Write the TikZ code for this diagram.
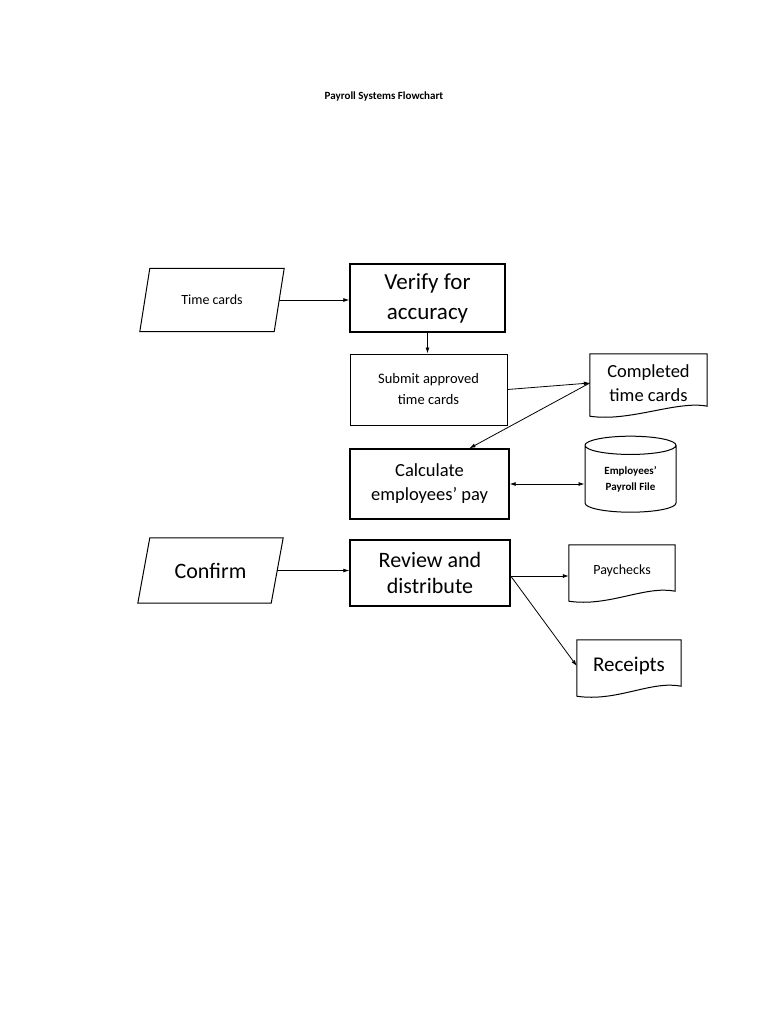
\documentclass[tikz,border=0pt]{standalone}
\usepackage{fontspec}
\setmainfont{Carlito}
\usetikzlibrary{shapes.geometric,arrows.meta}
\begin{document}
\begin{tikzpicture}[x=1pt,y=-1pt,
  line/.style={draw=black,line width=1pt},
  box/.style={line,line width=1.4pt,rectangle,inner sep=0pt,align=center},
  para/.style={rectangle,inner sep=0pt,align=center},
  doc/.style={rectangle,inner sep=0pt,align=center},
  arr/.style={line width=0.8pt,-{Latex[length=6pt,width=4pt]}},
  darr/.style={line width=0.8pt,{Latex[length=6pt,width=4pt]}-{Latex[length=6pt,width=4pt]}}]
\useasboundingbox (0,0) rectangle (768,1024);
\node[font=\fontsize{11}{13}\selectfont\bfseries] (title) at (384,97) {Payroll Systems Flowchart};

\node[para,minimum width=134pt,minimum height=63pt,font=\fontsize{14}{16}\selectfont] (tc) at (212,300) {Time cards};
\node[box,minimum width=155pt,minimum height=68pt,font=\fontsize{23}{30}\selectfont] (ver) at (427.5,298) {Verify for\\accuracy};
\node[box,line width=1pt,minimum width=157pt,minimum height=71pt,font=\fontsize{14.5}{21}\selectfont] (sub) at (428.5,389.5) {Submit approved\\time cards};
\node[doc,minimum width=117pt,minimum height=58pt,font=\fontsize{18.5}{24}\selectfont] (comp) at (648.5,383) {Completed\\time cards};
\node[box,minimum width=159pt,minimum height=70pt,font=\fontsize{18.5}{24}\selectfont] (calc) at (429.5,484) {Calculate\\employees’ pay};
\node[line,cylinder,shape border rotate=90,aspect=0.35,minimum width=91pt,minimum height=76pt,inner sep=0pt,align=center,font=\fontsize{11}{16}\selectfont\bfseries] (file) at (630.5,479) {Employees’\\Payroll File};
\node[para,minimum width=133pt,minimum height=65pt,font=\fontsize{22}{26}\selectfont] (conf) at (210.5,570.5) {Confirm};
\node[box,minimum width=160pt,minimum height=66pt,font=\fontsize{22}{26}\selectfont] (rev) at (430,573) {Review and\\distribute};
\node[doc,minimum width=106pt,minimum height=52pt,font=\fontsize{14}{16}\selectfont] (pay) at (622,571) {Paychecks};
\node[doc,minimum width=104pt,minimum height=52pt,font=\fontsize{21}{24}\selectfont] (rec) at (629,666) {Receipts};

\foreach \n/\s in {tc/5pt,conf/6pt}{
  \draw[line] ([xshift=\s]\n.north west) -- ([xshift=\s]\n.north east)
    -- ([xshift=-\s]\n.south east) -- ([xshift=-\s]\n.south west) -- cycle;
}
\foreach \n in {comp,pay,rec}{
  \draw[line] (\n.north west) -- (\n.north east) -- ([yshift=6pt]\n.south east)
    .. controls ([xshift=-30pt,yshift=12pt]\n.south east) and ([xshift=40pt,yshift=-10pt]\n.south west) ..
    ([yshift=-4pt]\n.south west) -- cycle;
}
\coordinate (re) at ([yshift=-3pt]rev.east);

\draw[arr] (tc.east) -- (ver.west |- tc.east);
\draw[arr] (ver.south) -- (sub.north -| ver.south);
\draw[arr] (sub.east) -- (comp.west);
\draw[arr] (comp.west) -- ([xshift=40pt]calc.north);
\draw[darr] (calc.east) -- (file.west |- calc.east);
\draw[arr] (conf.east) -- (rev.west |- conf.east);
\draw[arr] (re) -- (pay.west |- re);
\draw[arr] (re) -- (rec.west);
\end{tikzpicture}
\end{document}
